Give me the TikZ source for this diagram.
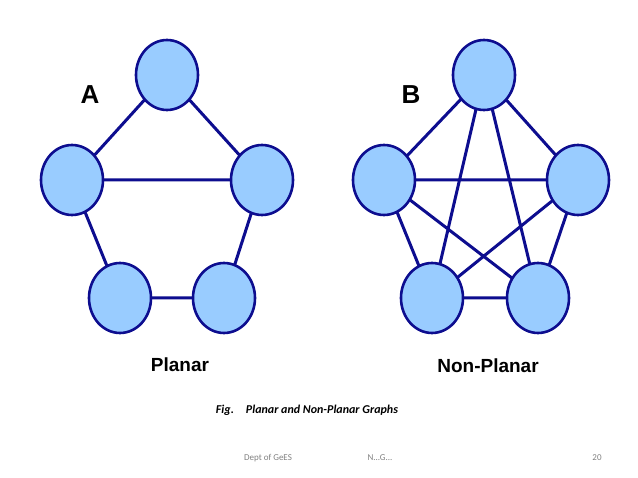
\documentclass[tikz,border=0pt]{standalone}
\usepackage{fontspec}
\setmainfont{Liberation Sans}
\newfontfamily\capfont{Carlito}
\usetikzlibrary{shapes.geometric}
\definecolor{nfill}{HTML}{99CCFF}
\definecolor{nline}{HTML}{0D0D8F}
\begin{document}
\begin{tikzpicture}[x=1pt,y=-1pt,
  v/.style={ellipse,draw=nline,fill=nfill,line width=2.6pt,minimum width=62pt,minimum height=70pt,inner sep=0pt},
  e/.style={draw=nline,line width=3pt},
  lab/.style={font=\bfseries\fontsize{26}{26}\selectfont,text=black},
  ttl/.style={font=\bfseries\fontsize{19}{19}\selectfont,text=black},
  foot/.style={font=\capfont\fontsize{9}{9}\selectfont,text=gray}]
\useasboundingbox (0,0) rectangle (638,478);
\coordinate (a1) at (167,75);
\coordinate (a2) at (72,180);
\coordinate (a3) at (262,180);
\coordinate (a4) at (120,298);
\coordinate (a5) at (224,298);
\coordinate (b1) at (484,75);
\coordinate (b2) at (384,180);
\coordinate (b3) at (578,180);
\coordinate (b4) at (432,298);
\coordinate (b5) at (538,298);
\draw[e] (a1)--(a2) (a1)--(a3) (a2)--(a3) (a2)--(a4) (a3)--(a5) (a4)--(a5);
\draw[e] (b1)--(b2) (b1)--(b3) (b1)--(b4) (b1)--(b5) (b2)--(b3) (b2)--(b4) (b2)--(b5) (b3)--(b4) (b3)--(b5) (b4)--(b5);
\foreach \n in {a1,a2,a3,a4,a5,b1,b2,b3,b4,b5} \node[v] (N\n) at (\n) {};
\node[lab] (la) at (90,95) {A};
\node[lab] (lb) at (411,95) {B};
\node[ttl] (ta) at (180,365) {Planar};
\node[ttl] (tb) at (488,366) {Non-Planar};
\node[font=\capfont\bfseries\itshape\fontsize{12}{12}\selectfont] (cap) at (307,410) {Fig.\quad Planar and Non-Planar Graphs};
\node[foot] (f1) at (268,458) {Dept of GeES};
\node[foot] (f2) at (380,458) {N...G...};
\node[foot] (f3) at (597,458) {20};
\end{tikzpicture}
\end{document}
